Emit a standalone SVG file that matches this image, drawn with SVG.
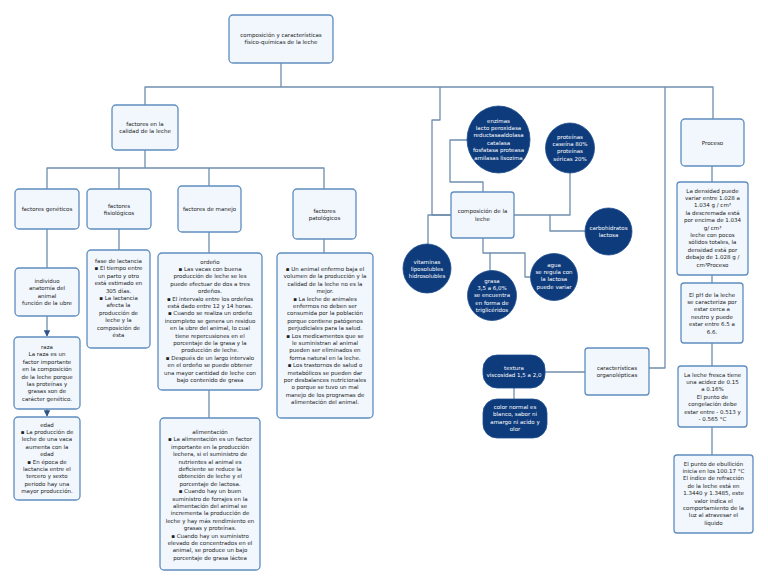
<svg xmlns="http://www.w3.org/2000/svg" width="768" height="586" viewBox="0 0 768 586">
<defs>
<style>
.box{fill:#f1f7fd;stroke:#5f8dbf;stroke-width:1.3}
.dark{fill:#0d3b7c;stroke:#1f4f8f;stroke-width:0.8}
.t{font-family:"DejaVu Sans",Verdana,sans-serif;font-size:5.5px;fill:#222;text-anchor:middle}
.w{font-family:"DejaVu Sans",Verdana,sans-serif;font-size:5.5px;fill:#fff;text-anchor:middle}
.c{fill:none;stroke:#6f8eae;stroke-width:1.3;stroke-linejoin:round}
</style>
<marker id="arr" viewBox="0 0 10 10" refX="9" refY="5" markerWidth="5" markerHeight="5" orient="auto">
<path d="M0,0 L10,5 L0,10 z" fill="#2e5586"/>
</marker>
</defs>
<rect width="768" height="586" fill="#ffffff"/>

<g id="connectors">
<path class="c" d="M281,63 V87"/>
<path class="c" d="M145,105 V87 H713 V119"/>
<path class="c" d="M145,150 V168"/>
<path class="c" d="M47,189 V168 H324 V189"/>
<path class="c" d="M119,168 V189"/>
<path class="c" d="M209,168 V186"/>
<path class="c" d="M47,229 V268"/>
<path class="c" d="M47,316 V336" marker-end="url(#arr)"/>
<path class="c" d="M47,409 V416" marker-end="url(#arr)"/>
<path class="c" d="M119,229 V250"/>
<path class="c" d="M209,232 V253"/>
<path class="c" d="M209,390 V418"/>
<path class="c" d="M324,239 V253"/>
<path class="c" d="M440,87 V120 H432 V215 H451"/>
<path class="c" d="M451,215 H428 V246"/>
<path class="c" d="M483,192 V182 H450 V140 H467"/>
<path class="c" d="M514,215 H570 V173"/>
<path class="c" d="M550,215 V231 H585"/>
<path class="c" d="M483,238 V253 H490 V271"/>
<path class="c" d="M490,253 H525 V277 H531"/>
<path class="c" d="M665,87 V368 H649"/>
<path class="c" d="M585,372 H545"/>
<path class="c" d="M514,388 V399"/>
<path class="c" d="M712,166 V182"/>
<path class="c" d="M712,275 V283"/>
<path class="c" d="M712,343 V366"/>
<path class="c" d="M712,427 V455"/>
</g>

<g id="title">
<rect class="box" x="229" y="15" width="104" height="48" rx="4"/>
<text class="t" x="281" y="37"><tspan x="281">composición y características</tspan><tspan x="281" dy="7.4">físico-químicas de la leche</tspan></text>
</g>

<g id="factores-calidad">
<rect class="box" x="112" y="105" width="66" height="45" rx="4"/>
<text class="t" x="145" y="125.5"><tspan x="145">factores en la</tspan><tspan x="145" dy="7.4">calidad de la leche</tspan></text>
</g>

<g id="factores-geneticos">
<rect class="box" x="15" y="189" width="64" height="40" rx="4"/>
<text class="t" x="47" y="211">factores genéticos</text>
</g>

<g id="individuo">
<rect class="box" x="15" y="268" width="64" height="48" rx="4"/>
<text class="t" x="47" y="283"><tspan x="47">individuo</tspan><tspan x="47" dy="7.4">anatomía del</tspan><tspan x="47" dy="7.4">animal</tspan><tspan x="47" dy="7.4">función de la ubre</tspan></text>
</g>

<g id="raza">
<rect class="box" x="14" y="337" width="66" height="72" rx="4"/>
<text class="t" x="47" y="349"><tspan x="47">raza</tspan><tspan x="47" dy="7.4">La raza es un</tspan><tspan x="47" dy="7.4">factor importante</tspan><tspan x="47" dy="7.4">en la composición</tspan><tspan x="47" dy="7.4">de la leche porque</tspan><tspan x="47" dy="7.4">las proteínas y</tspan><tspan x="47" dy="7.4">grasas son de</tspan><tspan x="47" dy="7.4">carácter genético.</tspan></text>
</g>

<g id="edad">
<rect class="box" x="14" y="417" width="66" height="83" rx="4"/>
<text class="t" x="47" y="426.5"><tspan x="47">edad</tspan><tspan x="47" dy="7.4">▪ La producción de</tspan><tspan x="47" dy="7.4">leche de una vaca</tspan><tspan x="47" dy="7.4">aumenta con la</tspan><tspan x="47" dy="7.4">edad</tspan><tspan x="47" dy="7.4">▪ En época de</tspan><tspan x="47" dy="7.4">lactancia entre el</tspan><tspan x="47" dy="7.4">tercero y sexto</tspan><tspan x="47" dy="7.4">periodo hay una</tspan><tspan x="47" dy="7.4">mayor producción.</tspan></text>
</g>

<g id="factores-fisiologicos">
<rect class="box" x="87" y="189" width="64" height="40" rx="4"/>
<text class="t" x="119" y="207.5"><tspan x="119">factores</tspan><tspan x="119" dy="7.4">fisiológicos</tspan></text>
</g>

<g id="fase-lactancia">
<rect class="box" x="87" y="250" width="63" height="98" rx="4"/>
<text class="t" x="118.5" y="263"><tspan x="118.5">fase de lactancia</tspan><tspan x="118.5" dy="7.4">▪ El tiempo entre</tspan><tspan x="118.5" dy="7.4">un parto y otro</tspan><tspan x="118.5" dy="7.4">está estimado en</tspan><tspan x="118.5" dy="7.4">305 días.</tspan><tspan x="118.5" dy="7.4">▪ La lactancia</tspan><tspan x="118.5" dy="7.4">afecta la</tspan><tspan x="118.5" dy="7.4">producción de</tspan><tspan x="118.5" dy="7.4">leche y la</tspan><tspan x="118.5" dy="7.4">composición de</tspan><tspan x="118.5" dy="7.4">ésta</tspan></text>
</g>

<g id="factores-manejo">
<rect class="box" x="178" y="186" width="63" height="46" rx="4"/>
<text class="t" x="209.5" y="211">factores de manejo</text>
</g>

<g id="ordeno">
<rect class="box" x="158" y="253" width="104" height="137" rx="4"/>
<text class="t" x="210" y="263.5"><tspan x="210">ordeño</tspan><tspan x="210" dy="7.4">▪ Las vacas con buena</tspan><tspan x="210" dy="7.4">producción de leche se les</tspan><tspan x="210" dy="7.4">puede efectuar de dos a tres</tspan><tspan x="210" dy="7.4">ordeños.</tspan><tspan x="210" dy="7.4">▪ El intervalo entre los ordeños</tspan><tspan x="210" dy="7.4">está dado entre 12 y 14 horas.</tspan><tspan x="210" dy="7.4">▪ Cuando se realiza un ordeño</tspan><tspan x="210" dy="7.4">incompleto se genera un residuo</tspan><tspan x="210" dy="7.4">en la ubre del animal, lo cual</tspan><tspan x="210" dy="7.4">tiene repercusiones en el</tspan><tspan x="210" dy="7.4">porcentaje de la grasa y la</tspan><tspan x="210" dy="7.4">producción de leche.</tspan><tspan x="210" dy="7.4">▪ Después de un largo intervalo</tspan><tspan x="210" dy="7.4">en el ordeño se puede obtener</tspan><tspan x="210" dy="7.4">una mayor cantidad de leche con</tspan><tspan x="210" dy="7.4">bajo contenido de grasa</tspan></text>
</g>

<g id="alimentacion">
<rect class="box" x="160" y="418" width="100" height="152" rx="4"/>
<text class="t" x="210" y="434"><tspan x="210">alimentación</tspan><tspan x="210" dy="7.4">▪ La alimentación es un factor</tspan><tspan x="210" dy="7.4">importante en la producción</tspan><tspan x="210" dy="7.4">lechera, si el suministro de</tspan><tspan x="210" dy="7.4">nutrientes al animal es</tspan><tspan x="210" dy="7.4">deficiente se reduce la</tspan><tspan x="210" dy="7.4">obtención de leche y el</tspan><tspan x="210" dy="7.4">porcentaje de lactosa.</tspan><tspan x="210" dy="7.4">▪ Cuando hay un buen</tspan><tspan x="210" dy="7.4">suministro de forrajes en la</tspan><tspan x="210" dy="7.4">alimentación del animal se</tspan><tspan x="210" dy="7.4">incrementa la producción de</tspan><tspan x="210" dy="7.4">leche y hay más rendimiento en</tspan><tspan x="210" dy="7.4">grasas y proteínas.</tspan><tspan x="210" dy="7.4">▪ Cuando hay un suministro</tspan><tspan x="210" dy="7.4">elevado de concentrados en el</tspan><tspan x="210" dy="7.4">animal, se produce un bajo</tspan><tspan x="210" dy="7.4">porcentaje de grasa láctea</tspan></text>
</g>

<g id="factores-patologicos">
<rect class="box" x="293" y="189" width="63" height="50" rx="4"/>
<text class="t" x="324.5" y="212.5"><tspan x="324.5">factores</tspan><tspan x="324.5" dy="7.4">patológicos</tspan></text>
</g>

<g id="patologicos-texto">
<rect class="box" x="277" y="253" width="96" height="165" rx="4"/>
<text class="t" x="325" y="271"><tspan x="325">▪ Un animal enfermo baja el</tspan><tspan x="325" dy="7.4">volumen de la producción y la</tspan><tspan x="325" dy="7.4">calidad de la leche no es la</tspan><tspan x="325" dy="7.4">mejor.</tspan><tspan x="325" dy="7.4">▪ La leche de animales</tspan><tspan x="325" dy="7.4">enfermos no deben ser</tspan><tspan x="325" dy="7.4">consumida por la población</tspan><tspan x="325" dy="7.4">porque contiene patógenos</tspan><tspan x="325" dy="7.4">perjudiciales para la salud.</tspan><tspan x="325" dy="7.4">▪ Los medicamentos que se</tspan><tspan x="325" dy="7.4">le suministran al animal</tspan><tspan x="325" dy="7.4">pueden ser eliminados en</tspan><tspan x="325" dy="7.4">forma natural en la leche.</tspan><tspan x="325" dy="7.4">▪ Los trastornos de salud o</tspan><tspan x="325" dy="7.4">metabólicos se pueden dar</tspan><tspan x="325" dy="7.4">por desbalances nutricionales</tspan><tspan x="325" dy="7.4">o porque se tuvo un mal</tspan><tspan x="325" dy="7.4">manejo de los programas de</tspan><tspan x="325" dy="7.4">alimentación del animal.</tspan></text>
</g>

<g id="composicion-leche">
<rect class="box" x="451" y="192" width="63" height="46" rx="3"/>
<text class="t" x="482.5" y="213.3"><tspan x="482.5">composición de la</tspan><tspan x="482.5" dy="7.4">leche</tspan></text>
</g>

<g id="enzimas">
<ellipse class="dark" cx="498.5" cy="139.5" rx="31.5" ry="33.5"/>
<text class="w" x="498.5" y="122.5"><tspan x="498.5">enzimas</tspan><tspan x="498.5" dy="7.4">lacto peroxidasa</tspan><tspan x="498.5" dy="7.4">reductasaaldolasa</tspan><tspan x="498.5" dy="7.4">catalasa</tspan><tspan x="498.5" dy="7.4">fosfatasa proteasa</tspan><tspan x="498.5" dy="7.4">amilasas lisozima</tspan></text>
</g>

<g id="proteinas">
<ellipse class="dark" cx="570" cy="148" rx="24.5" ry="25"/>
<text class="w" x="570" y="138.5"><tspan x="570">proteínas</tspan><tspan x="570" dy="7.4">caseína 80%</tspan><tspan x="570" dy="7.4">proteínas</tspan><tspan x="570" dy="7.4">séricas 20%</tspan></text>
</g>

<g id="carbohidratos">
<ellipse class="dark" cx="608.5" cy="231.5" rx="23.5" ry="23.5"/>
<text class="w" x="608.5" y="229.5"><tspan x="608.5">carbohidratos</tspan><tspan x="608.5" dy="7.4">lactosa</tspan></text>
</g>

<g id="agua">
<ellipse class="dark" cx="554" cy="277" rx="23.5" ry="23.5"/>
<text class="w" x="554" y="266.5"><tspan x="554">agua</tspan><tspan x="554" dy="7.4">se regula con</tspan><tspan x="554" dy="7.4">la lactosa</tspan><tspan x="554" dy="7.4">puede variar</tspan></text>
</g>

<g id="grasa">
<ellipse class="dark" cx="492" cy="295.5" rx="24.5" ry="25"/>
<text class="w" x="492" y="282.5"><tspan x="492">grasa</tspan><tspan x="492" dy="7.4">3,5 a 6,0%</tspan><tspan x="492" dy="7.4">se encuentra</tspan><tspan x="492" dy="7.4">en forma de</tspan><tspan x="492" dy="7.4">triglicéridos</tspan></text>
</g>

<g id="vitaminas">
<ellipse class="dark" cx="427" cy="268.5" rx="24" ry="24.5"/>
<text class="w" x="427" y="263.5"><tspan x="427">vitaminas</tspan><tspan x="427" dy="7.4">liposolubles</tspan><tspan x="427" dy="7.4">hidrosolubles</tspan></text>
</g>

<g id="caracteristicas">
<rect class="box" x="585" y="348" width="64" height="47" rx="3"/>
<text class="t" x="617" y="369.8"><tspan x="617">características</tspan><tspan x="617" dy="7.4">organolépticas</tspan></text>
</g>

<g id="textura">
<rect class="dark" x="483" y="355" width="62" height="33" rx="14"/>
<text class="w" x="514" y="369.8"><tspan x="514">textura</tspan><tspan x="514" dy="7.4">viscosidad 1,5 a 2,0</tspan></text>
</g>

<g id="color">
<rect class="dark" x="483" y="399" width="64" height="39" rx="14"/>
<text class="w" x="515" y="409"><tspan x="515">color normal es</tspan><tspan x="515" dy="7.4">blanco, sabor ni</tspan><tspan x="515" dy="7.4">amargo ni acido y</tspan><tspan x="515" dy="7.4">olor</tspan></text>
</g>

<g id="proceso">
<rect class="box" x="681" y="119" width="63" height="47" rx="4"/>
<text class="t" x="712.5" y="144.5">Proceso</text>
</g>

<g id="densidad">
<rect class="box" x="677" y="182" width="71" height="93" rx="3"/>
<text class="t" x="712.5" y="192.5"><tspan x="712.5">La densidad puede</tspan><tspan x="712.5" dy="7.4">variar entre 1.028 a</tspan><tspan x="712.5" dy="7.4">1.034 g / cm³</tspan><tspan x="712.5" dy="7.4">la descremada está</tspan><tspan x="712.5" dy="7.4">por encima de 1.034</tspan><tspan x="712.5" dy="7.4">g/ cm³</tspan><tspan x="712.5" dy="7.4">leche con pocos</tspan><tspan x="712.5" dy="7.4">sólidos totales, la</tspan><tspan x="712.5" dy="7.4">densidad está por</tspan><tspan x="712.5" dy="7.4">debajo de 1.028 g /</tspan><tspan x="712.5" dy="7.4">cm³Proceso</tspan></text>
</g>

<g id="ph">
<rect class="box" x="681" y="283" width="62" height="60" rx="3"/>
<text class="t" x="712" y="296.5"><tspan x="712">El pH de la leche</tspan><tspan x="712" dy="7.4">se caracteriza por</tspan><tspan x="712" dy="7.4">estar cerca a</tspan><tspan x="712" dy="7.4">neutro y puede</tspan><tspan x="712" dy="7.4">estar entre 6.5 a</tspan><tspan x="712" dy="7.4">6.6.</tspan></text>
</g>

<g id="acidez">
<rect class="box" x="678" y="366" width="69" height="61" rx="3"/>
<text class="t" x="712.5" y="376.5"><tspan x="712.5">La leche fresca tiene</tspan><tspan x="712.5" dy="7.4">una acidez de 0.15</tspan><tspan x="712.5" dy="7.4">a 0.16%</tspan><tspan x="712.5" dy="7.4">El punto de</tspan><tspan x="712.5" dy="7.4">congelación debe</tspan><tspan x="712.5" dy="7.4">estar entre - 0.513 y</tspan><tspan x="712.5" dy="7.4">- 0.565 °C</tspan></text>
</g>

<g id="ebullicion">
<rect class="box" x="674" y="455" width="79" height="78" rx="3"/>
<text class="t" x="713.5" y="465.5"><tspan x="713.5">El punto de ebullición</tspan><tspan x="713.5" dy="7.4">inicia en los 100.17 °C</tspan><tspan x="713.5" dy="7.4">El índice de refracción</tspan><tspan x="713.5" dy="7.4">de la leche está en</tspan><tspan x="713.5" dy="7.4">1.3440 y 1.3485, este</tspan><tspan x="713.5" dy="7.4">valor indica el</tspan><tspan x="713.5" dy="7.4">comportamiento de la</tspan><tspan x="713.5" dy="7.4">luz al atravesar el</tspan><tspan x="713.5" dy="7.4">líquido</tspan></text>
</g>
</svg>
